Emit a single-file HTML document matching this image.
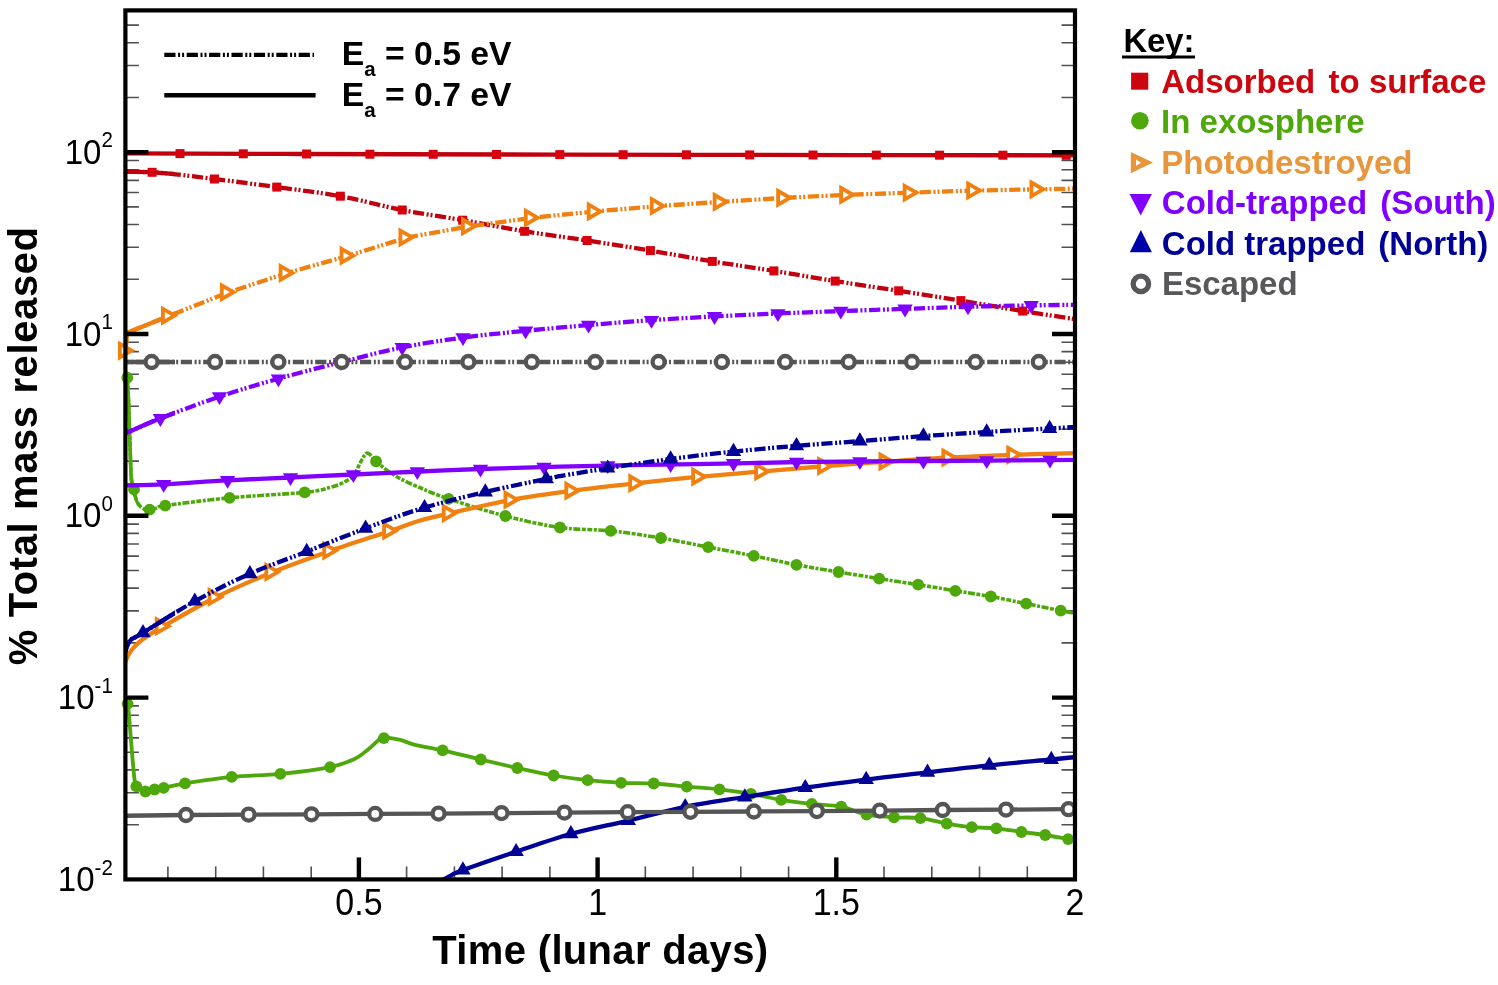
<!DOCTYPE html>
<html lang="en"><head><meta charset="utf-8"><title>Total mass released vs time</title>
<style>
html,body{margin:0;padding:0;background:#fff;}
body{width:1498px;height:985px;overflow:hidden;position:relative;font-family:"Liberation Sans", Arial, Helvetica, sans-serif;}
</style></head><body>
<svg width="1498" height="985" viewBox="0 0 1498 985" style="display:block;position:absolute;left:0;top:0">
<rect x="0" y="0" width="1498" height="985" fill="#fff"/>
<defs><clipPath id="pc"><rect x="125" y="10" width="951" height="870"/></clipPath><clipPath id="ps"><rect x="125" y="10" width="50" height="870"/></clipPath><clipPath id="pg"><rect x="125" y="10" width="13" height="870"/></clipPath></defs>
<g stroke="#505050" stroke-width="1.6" fill="none">
<path d="M125.4,824.7h13.5M1075.0,824.7h-13.5"/>
<path d="M125.4,792.7h13.5M1075.0,792.7h-13.5"/>
<path d="M125.4,769.9h13.5M1075.0,769.9h-13.5"/>
<path d="M125.4,752.3h13.5M1075.0,752.3h-13.5"/>
<path d="M125.4,737.9h13.5M1075.0,737.9h-13.5"/>
<path d="M125.4,725.8h13.5M1075.0,725.8h-13.5"/>
<path d="M125.4,715.2h13.5M1075.0,715.2h-13.5"/>
<path d="M125.4,705.9h13.5M1075.0,705.9h-13.5"/>
<path d="M125.4,642.9h13.5M1075.0,642.9h-13.5"/>
<path d="M125.4,610.9h13.5M1075.0,610.9h-13.5"/>
<path d="M125.4,588.1h13.5M1075.0,588.1h-13.5"/>
<path d="M125.4,570.5h13.5M1075.0,570.5h-13.5"/>
<path d="M125.4,556.1h13.5M1075.0,556.1h-13.5"/>
<path d="M125.4,544.0h13.5M1075.0,544.0h-13.5"/>
<path d="M125.4,533.4h13.5M1075.0,533.4h-13.5"/>
<path d="M125.4,524.1h13.5M1075.0,524.1h-13.5"/>
<path d="M125.4,461.1h13.5M1075.0,461.1h-13.5"/>
<path d="M125.4,429.1h13.5M1075.0,429.1h-13.5"/>
<path d="M125.4,406.3h13.5M1075.0,406.3h-13.5"/>
<path d="M125.4,388.7h13.5M1075.0,388.7h-13.5"/>
<path d="M125.4,374.3h13.5M1075.0,374.3h-13.5"/>
<path d="M125.4,362.2h13.5M1075.0,362.2h-13.5"/>
<path d="M125.4,351.6h13.5M1075.0,351.6h-13.5"/>
<path d="M125.4,342.3h13.5M1075.0,342.3h-13.5"/>
<path d="M125.4,279.3h13.5M1075.0,279.3h-13.5"/>
<path d="M125.4,247.3h13.5M1075.0,247.3h-13.5"/>
<path d="M125.4,224.5h13.5M1075.0,224.5h-13.5"/>
<path d="M125.4,206.9h13.5M1075.0,206.9h-13.5"/>
<path d="M125.4,192.5h13.5M1075.0,192.5h-13.5"/>
<path d="M125.4,180.4h13.5M1075.0,180.4h-13.5"/>
<path d="M125.4,169.8h13.5M1075.0,169.8h-13.5"/>
<path d="M125.4,160.5h13.5M1075.0,160.5h-13.5"/>
<path d="M125.4,97.5h13.5M1075.0,97.5h-13.5"/>
<path d="M125.4,65.5h13.5M1075.0,65.5h-13.5"/>
<path d="M125.4,42.7h13.5M1075.0,42.7h-13.5"/>
<path d="M125.4,25.1h13.5M1075.0,25.1h-13.5"/>
<path d="M1027.3,879.4v-13M1027.3,10.4v0"/>
<path d="M979.5,879.4v-13M979.5,10.4v0"/>
<path d="M931.8,879.4v-13M931.8,10.4v0"/>
<path d="M884.0,879.4v-13M884.0,10.4v0"/>
<path d="M788.6,879.4v-13M788.6,10.4v0"/>
<path d="M740.8,879.4v-13M740.8,10.4v0"/>
<path d="M693.1,879.4v-13M693.1,10.4v0"/>
<path d="M645.3,879.4v-13M645.3,10.4v0"/>
<path d="M549.9,879.4v-13M549.9,10.4v0"/>
<path d="M502.1,879.4v-13M502.1,10.4v0"/>
<path d="M454.4,879.4v-13M454.4,10.4v0"/>
<path d="M406.6,879.4v-13M406.6,10.4v0"/>
<path d="M311.2,879.4v-13M311.2,10.4v0"/>
<path d="M263.4,879.4v-13M263.4,10.4v0"/>
<path d="M215.7,879.4v-13M215.7,10.4v0"/>
<path d="M167.9,879.4v-13M167.9,10.4v0"/>
</g>
<g fill="none" stroke-linejoin="round">
<path clip-path="url(#pc)" d="M120.0,153.4 C150.0,153.5 226.7,153.8 300.0,154.0 C373.3,154.2 466.7,154.4 560.0,154.6 C653.3,154.8 774.0,155.0 860.0,155.1 C946.0,155.2 1040.0,155.3 1076.0,155.3" stroke="#c0000c" stroke-width="4.3"/>
<rect x="175.5" y="149.1" width="9.0" height="9.0" fill="#d8000e" stroke="none"/>
<rect x="238.8" y="149.3" width="9.0" height="9.0" fill="#d8000e" stroke="none"/>
<rect x="302.1" y="149.5" width="9.0" height="9.0" fill="#d8000e" stroke="none"/>
<rect x="365.4" y="149.7" width="9.0" height="9.0" fill="#d8000e" stroke="none"/>
<rect x="428.7" y="149.8" width="9.0" height="9.0" fill="#d8000e" stroke="none"/>
<rect x="492.0" y="150.0" width="9.0" height="9.0" fill="#d8000e" stroke="none"/>
<rect x="555.3" y="150.1" width="9.0" height="9.0" fill="#d8000e" stroke="none"/>
<rect x="618.6" y="150.2" width="9.0" height="9.0" fill="#d8000e" stroke="none"/>
<rect x="681.9" y="150.3" width="9.0" height="9.0" fill="#d8000e" stroke="none"/>
<rect x="745.2" y="150.4" width="9.0" height="9.0" fill="#d8000e" stroke="none"/>
<rect x="808.5" y="150.5" width="9.0" height="9.0" fill="#d8000e" stroke="none"/>
<rect x="871.8" y="150.6" width="9.0" height="9.0" fill="#d8000e" stroke="none"/>
<rect x="935.1" y="150.7" width="9.0" height="9.0" fill="#d8000e" stroke="none"/>
<rect x="998.4" y="150.7" width="9.0" height="9.0" fill="#d8000e" stroke="none"/>
<rect x="1061.7" y="150.8" width="9.0" height="9.0" fill="#d8000e" stroke="none"/>
<path clip-path="url(#pc)" d="M125.0,171.6 C129.5,171.7 143.6,171.9 152.1,172.3 C160.6,172.8 165.6,173.2 176.0,174.3 C186.4,175.4 197.7,176.9 214.5,179.0 C231.3,181.1 255.8,184.2 276.8,187.1 C297.8,190.0 319.4,192.4 340.3,196.2 C361.2,200.0 381.8,206.0 402.2,210.0 C422.6,214.0 442.3,216.6 462.7,220.2 C483.1,223.8 503.9,227.9 524.6,231.3 C545.3,234.7 566.1,237.3 587.1,240.5 C608.1,243.7 629.5,247.1 650.4,250.6 C671.3,254.1 691.7,258.0 712.3,261.4 C732.9,264.8 753.4,267.6 773.9,270.9 C794.4,274.2 814.4,277.8 835.2,281.1 C856.0,284.4 877.8,287.6 898.7,290.8 C919.7,294.1 940.2,297.2 960.9,300.6 C981.6,304.0 1003.5,308.0 1022.7,311.1 C1041.9,314.2 1067.1,317.9 1076.0,319.2" stroke="#c0000c" stroke-width="4.3" stroke-dasharray="11.2 2.6 2 2 2 2.6"/>
<path clip-path="url(#ps)" d="M125.0,171.6 C129.5,171.7 143.6,171.9 152.1,172.3 C160.6,172.8 165.6,173.2 176.0,174.3 C186.4,175.4 197.7,176.9 214.5,179.0 C231.3,181.1 255.8,184.2 276.8,187.1 C297.8,190.0 319.4,192.4 340.3,196.2 C361.2,200.0 381.8,206.0 402.2,210.0 C422.6,214.0 442.3,216.6 462.7,220.2 C483.1,223.8 503.9,227.9 524.6,231.3 C545.3,234.7 566.1,237.3 587.1,240.5 C608.1,243.7 629.5,247.1 650.4,250.6 C671.3,254.1 691.7,258.0 712.3,261.4 C732.9,264.8 753.4,267.6 773.9,270.9 C794.4,274.2 814.4,277.8 835.2,281.1 C856.0,284.4 877.8,287.6 898.7,290.8 C919.7,294.1 940.2,297.2 960.9,300.6 C981.6,304.0 1003.5,308.0 1022.7,311.1 C1041.9,314.2 1067.1,317.9 1076.0,319.2" stroke="#c0000c" stroke-width="4.3"/>
<rect x="147.6" y="167.8" width="9.0" height="9.0" fill="#d8000e" stroke="none"/>
<rect x="210.0" y="174.5" width="9.0" height="9.0" fill="#d8000e" stroke="none"/>
<rect x="272.3" y="182.6" width="9.0" height="9.0" fill="#d8000e" stroke="none"/>
<rect x="335.8" y="191.7" width="9.0" height="9.0" fill="#d8000e" stroke="none"/>
<rect x="397.7" y="205.5" width="9.0" height="9.0" fill="#d8000e" stroke="none"/>
<rect x="458.2" y="215.7" width="9.0" height="9.0" fill="#d8000e" stroke="none"/>
<rect x="520.1" y="226.8" width="9.0" height="9.0" fill="#d8000e" stroke="none"/>
<rect x="582.6" y="236.0" width="9.0" height="9.0" fill="#d8000e" stroke="none"/>
<rect x="645.9" y="246.1" width="9.0" height="9.0" fill="#d8000e" stroke="none"/>
<rect x="707.8" y="256.9" width="9.0" height="9.0" fill="#d8000e" stroke="none"/>
<rect x="769.4" y="266.4" width="9.0" height="9.0" fill="#d8000e" stroke="none"/>
<rect x="830.7" y="276.6" width="9.0" height="9.0" fill="#d8000e" stroke="none"/>
<rect x="894.2" y="286.3" width="9.0" height="9.0" fill="#d8000e" stroke="none"/>
<rect x="956.4" y="296.1" width="9.0" height="9.0" fill="#d8000e" stroke="none"/>
<rect x="1018.2" y="306.6" width="9.0" height="9.0" fill="#d8000e" stroke="none"/>
<path clip-path="url(#pc)" d="M127.6,703.8 C127.8,705.7 128.6,710.5 129.0,715.0 C129.4,719.5 129.7,724.8 130.2,730.6 C130.7,736.4 131.3,743.9 131.8,750.0 C132.3,756.1 132.8,762.1 133.3,767.1 C133.8,772.1 134.1,776.8 134.6,780.0 C135.1,783.2 135.4,784.8 136.3,786.4 C137.2,788.0 138.5,788.9 140.0,789.8 C141.5,790.6 143.0,791.5 145.4,791.5 C147.8,791.5 151.6,790.1 154.6,789.5 C157.6,788.9 158.6,788.8 163.7,787.8 C168.8,786.8 173.7,785.2 185.0,783.4 C196.3,781.6 215.8,778.5 231.7,776.9 C247.6,775.3 264.0,775.4 280.4,773.8 C296.8,772.2 317.8,769.6 330.1,767.1 C342.5,764.6 348.1,762.0 354.5,759.0 C360.9,756.0 364.6,752.1 368.7,748.9 C372.8,745.7 376.4,741.6 378.9,739.7 C381.4,737.8 380.5,737.7 383.9,737.7 C387.3,737.7 393.9,738.5 399.1,739.7 C404.3,740.9 407.8,743.0 415.0,744.8 C422.2,746.6 431.6,747.8 442.6,750.3 C453.6,752.8 468.4,756.5 480.8,759.5 C493.2,762.5 505.2,765.3 517.3,768.0 C529.4,770.7 541.9,773.5 553.6,775.5 C565.3,777.5 576.4,779.0 587.7,780.2 C599.0,781.4 610.2,782.2 621.2,782.8 C632.2,783.3 642.8,782.9 653.7,783.5 C664.6,784.1 675.8,785.6 686.8,786.6 C697.8,787.6 708.7,788.1 719.4,789.3 C730.1,790.5 740.6,792.0 750.9,793.8 C761.2,795.6 771.1,798.2 781.3,799.9 C791.4,801.6 801.8,802.8 811.8,803.9 C821.8,805.0 832.1,804.8 841.2,806.6 C850.3,808.4 857.8,812.9 866.6,814.7 C875.4,816.5 885.0,816.7 894.0,817.3 C903.0,817.9 911.6,817.0 920.4,818.1 C929.2,819.2 938.2,822.1 946.8,823.6 C955.4,825.1 963.5,826.4 971.8,827.2 C980.1,828.0 988.1,827.5 996.4,828.3 C1004.7,829.1 1013.3,830.9 1021.4,832.0 C1029.5,833.1 1037.4,833.8 1045.2,835.0 C1053.0,836.2 1063.0,838.2 1068.1,839.1 C1073.2,840.0 1074.7,840.0 1076.0,840.2" stroke="#4ea80c" stroke-width="3.8"/>
<circle cx="127.6" cy="703.8" r="5.9" fill="#4ea80c" stroke="none"/>
<circle cx="136.3" cy="786.4" r="5.9" fill="#4ea80c" stroke="none"/>
<circle cx="145.4" cy="791.5" r="5.9" fill="#4ea80c" stroke="none"/>
<circle cx="154.6" cy="789.5" r="5.9" fill="#4ea80c" stroke="none"/>
<circle cx="163.7" cy="787.8" r="5.9" fill="#4ea80c" stroke="none"/>
<circle cx="185.0" cy="783.4" r="5.9" fill="#4ea80c" stroke="none"/>
<circle cx="231.7" cy="776.9" r="5.9" fill="#4ea80c" stroke="none"/>
<circle cx="280.4" cy="773.8" r="5.9" fill="#4ea80c" stroke="none"/>
<circle cx="330.1" cy="767.1" r="5.9" fill="#4ea80c" stroke="none"/>
<circle cx="383.9" cy="738.1" r="5.9" fill="#4ea80c" stroke="none"/>
<circle cx="442.6" cy="750.3" r="5.9" fill="#4ea80c" stroke="none"/>
<circle cx="480.8" cy="759.5" r="5.9" fill="#4ea80c" stroke="none"/>
<circle cx="517.3" cy="768.0" r="5.9" fill="#4ea80c" stroke="none"/>
<circle cx="553.6" cy="775.5" r="5.9" fill="#4ea80c" stroke="none"/>
<circle cx="587.7" cy="780.2" r="5.9" fill="#4ea80c" stroke="none"/>
<circle cx="621.2" cy="782.8" r="5.9" fill="#4ea80c" stroke="none"/>
<circle cx="653.7" cy="783.5" r="5.9" fill="#4ea80c" stroke="none"/>
<circle cx="686.8" cy="786.6" r="5.9" fill="#4ea80c" stroke="none"/>
<circle cx="719.4" cy="789.3" r="5.9" fill="#4ea80c" stroke="none"/>
<circle cx="750.9" cy="793.8" r="5.9" fill="#4ea80c" stroke="none"/>
<circle cx="781.3" cy="799.9" r="5.9" fill="#4ea80c" stroke="none"/>
<circle cx="811.8" cy="803.9" r="5.9" fill="#4ea80c" stroke="none"/>
<circle cx="841.2" cy="806.6" r="5.9" fill="#4ea80c" stroke="none"/>
<circle cx="866.6" cy="814.7" r="5.9" fill="#4ea80c" stroke="none"/>
<circle cx="894.0" cy="817.3" r="5.9" fill="#4ea80c" stroke="none"/>
<circle cx="920.4" cy="818.1" r="5.9" fill="#4ea80c" stroke="none"/>
<circle cx="946.8" cy="823.6" r="5.9" fill="#4ea80c" stroke="none"/>
<circle cx="971.8" cy="827.2" r="5.9" fill="#4ea80c" stroke="none"/>
<circle cx="996.4" cy="828.3" r="5.9" fill="#4ea80c" stroke="none"/>
<circle cx="1021.4" cy="832.0" r="5.9" fill="#4ea80c" stroke="none"/>
<circle cx="1045.2" cy="835.0" r="5.9" fill="#4ea80c" stroke="none"/>
<circle cx="1068.1" cy="839.1" r="5.9" fill="#4ea80c" stroke="none"/>
<path clip-path="url(#pc)" d="M127.3,377.7 C127.5,381.4 128.1,391.3 128.5,400.0 C128.9,408.7 129.2,420.0 129.5,430.0 C129.8,440.0 130.2,451.7 130.5,460.0 C130.8,468.3 130.9,474.7 131.5,480.0 C132.1,485.3 133.1,488.4 134.0,492.0 C134.9,495.6 135.9,499.1 137.0,501.5 C138.1,503.9 139.2,505.3 140.5,506.6 C141.8,507.9 143.5,508.9 145.0,509.5 C146.5,510.1 147.6,510.1 149.6,509.9 C151.6,509.6 154.4,508.7 157.0,508.0 C159.6,507.3 153.1,507.3 165.2,505.6 C177.3,503.9 206.3,500.0 229.6,497.8 C252.8,495.6 288.0,494.1 304.7,492.4 C321.4,490.7 323.6,489.1 330.0,487.5 C336.4,485.9 339.4,484.6 343.3,482.6 C347.2,480.6 350.5,478.9 353.4,475.5 C356.3,472.1 358.7,465.6 360.5,462.3 C362.3,459.1 363.0,457.5 364.0,456.0 C365.0,454.5 365.6,453.4 366.6,453.2 C367.6,452.9 368.4,453.1 370.0,454.5 C371.6,455.9 372.8,458.3 376.1,461.3 C379.4,464.3 385.3,469.3 390.0,472.5 C394.7,475.7 399.1,478.1 404.1,480.6 C409.1,483.1 412.6,484.6 420.0,487.7 C427.4,490.8 434.4,494.2 448.6,498.9 C462.8,503.6 486.8,511.2 505.4,516.0 C524.0,520.8 542.5,525.0 560.0,527.5 C577.5,530.0 593.9,529.1 610.7,530.9 C627.5,532.6 644.6,535.3 660.9,538.0 C677.1,540.7 692.7,544.1 708.2,547.1 C723.7,550.1 739.1,553.0 753.8,555.9 C768.5,558.8 782.4,562.1 796.5,564.8 C810.6,567.5 824.7,569.7 838.5,572.0 C852.3,574.3 865.9,576.5 879.2,578.6 C892.5,580.7 905.4,582.7 918.1,584.7 C930.8,586.7 943.2,588.8 955.3,590.8 C967.4,592.8 979.0,594.4 990.8,596.5 C1002.6,598.6 1014.6,601.4 1026.2,603.7 C1037.9,606.1 1052.4,609.0 1060.7,610.6 C1069.0,612.2 1073.5,613.0 1076.0,613.5" stroke="#4ea80c" stroke-width="3.6" stroke-dasharray="7 1.5 4 1.5 5 1.5 3 1.5"/>
<path clip-path="url(#pg)" d="M127.3,377.7 C127.5,381.4 128.1,391.3 128.5,400.0 C128.9,408.7 129.2,420.0 129.5,430.0 C129.8,440.0 130.2,451.7 130.5,460.0 C130.8,468.3 130.9,474.7 131.5,480.0 C132.1,485.3 133.1,488.4 134.0,492.0 C134.9,495.6 135.9,499.1 137.0,501.5 C138.1,503.9 139.2,505.3 140.5,506.6 C141.8,507.9 143.5,508.9 145.0,509.5 C146.5,510.1 147.6,510.1 149.6,509.9 C151.6,509.6 154.4,508.7 157.0,508.0 C159.6,507.3 153.1,507.3 165.2,505.6 C177.3,503.9 206.3,500.0 229.6,497.8 C252.8,495.6 288.0,494.1 304.7,492.4 C321.4,490.7 323.6,489.1 330.0,487.5 C336.4,485.9 339.4,484.6 343.3,482.6 C347.2,480.6 350.5,478.9 353.4,475.5 C356.3,472.1 358.7,465.6 360.5,462.3 C362.3,459.1 363.0,457.5 364.0,456.0 C365.0,454.5 365.6,453.4 366.6,453.2 C367.6,452.9 368.4,453.1 370.0,454.5 C371.6,455.9 372.8,458.3 376.1,461.3 C379.4,464.3 385.3,469.3 390.0,472.5 C394.7,475.7 399.1,478.1 404.1,480.6 C409.1,483.1 412.6,484.6 420.0,487.7 C427.4,490.8 434.4,494.2 448.6,498.9 C462.8,503.6 486.8,511.2 505.4,516.0 C524.0,520.8 542.5,525.0 560.0,527.5 C577.5,530.0 593.9,529.1 610.7,530.9 C627.5,532.6 644.6,535.3 660.9,538.0 C677.1,540.7 692.7,544.1 708.2,547.1 C723.7,550.1 739.1,553.0 753.8,555.9 C768.5,558.8 782.4,562.1 796.5,564.8 C810.6,567.5 824.7,569.7 838.5,572.0 C852.3,574.3 865.9,576.5 879.2,578.6 C892.5,580.7 905.4,582.7 918.1,584.7 C930.8,586.7 943.2,588.8 955.3,590.8 C967.4,592.8 979.0,594.4 990.8,596.5 C1002.6,598.6 1014.6,601.4 1026.2,603.7 C1037.9,606.1 1052.4,609.0 1060.7,610.6 C1069.0,612.2 1073.5,613.0 1076.0,613.5" stroke="#4ea80c" stroke-width="3.6"/>
<circle cx="127.3" cy="377.7" r="5.9" fill="#4ea80c" stroke="none"/>
<circle cx="134.0" cy="489.4" r="5.9" fill="#4ea80c" stroke="none"/>
<circle cx="149.6" cy="509.7" r="5.9" fill="#4ea80c" stroke="none"/>
<circle cx="165.2" cy="505.6" r="5.9" fill="#4ea80c" stroke="none"/>
<circle cx="229.6" cy="497.8" r="5.9" fill="#4ea80c" stroke="none"/>
<circle cx="304.7" cy="492.4" r="5.9" fill="#4ea80c" stroke="none"/>
<circle cx="376.1" cy="461.3" r="5.9" fill="#4ea80c" stroke="none"/>
<circle cx="448.6" cy="498.9" r="5.9" fill="#4ea80c" stroke="none"/>
<circle cx="505.4" cy="516.0" r="5.9" fill="#4ea80c" stroke="none"/>
<circle cx="560.0" cy="527.5" r="5.9" fill="#4ea80c" stroke="none"/>
<circle cx="610.7" cy="530.9" r="5.9" fill="#4ea80c" stroke="none"/>
<circle cx="660.9" cy="538.0" r="5.9" fill="#4ea80c" stroke="none"/>
<circle cx="708.2" cy="547.1" r="5.9" fill="#4ea80c" stroke="none"/>
<circle cx="753.8" cy="555.9" r="5.9" fill="#4ea80c" stroke="none"/>
<circle cx="796.5" cy="564.8" r="5.9" fill="#4ea80c" stroke="none"/>
<circle cx="838.5" cy="572.0" r="5.9" fill="#4ea80c" stroke="none"/>
<circle cx="879.2" cy="578.6" r="5.9" fill="#4ea80c" stroke="none"/>
<circle cx="918.1" cy="584.7" r="5.9" fill="#4ea80c" stroke="none"/>
<circle cx="955.3" cy="590.8" r="5.9" fill="#4ea80c" stroke="none"/>
<circle cx="990.8" cy="596.5" r="5.9" fill="#4ea80c" stroke="none"/>
<circle cx="1026.2" cy="603.7" r="5.9" fill="#4ea80c" stroke="none"/>
<circle cx="1060.7" cy="610.6" r="5.9" fill="#4ea80c" stroke="none"/>
<path clip-path="url(#pc)" d="M125.4,662.0 C125.8,661.0 126.7,658.1 127.9,655.9 C129.1,653.7 130.4,651.3 132.8,648.6 C135.2,645.9 137.4,643.3 142.5,639.6 C147.6,635.9 151.3,633.3 163.6,626.2 C175.9,619.1 198.1,606.0 216.4,597.0 C234.7,588.0 254.1,579.6 273.2,571.9 C292.3,564.2 311.5,557.5 331.1,550.6 C350.7,543.7 376.2,535.7 391.0,530.7 C405.8,525.7 410.1,523.4 420.0,520.5 C429.9,517.6 435.2,516.6 450.6,513.1 C466.0,509.6 491.9,503.4 512.3,499.7 C532.7,496.0 552.4,493.4 573.2,490.7 C594.0,487.9 616.0,485.5 637.1,483.2 C658.2,480.9 679.0,478.7 700.0,476.7 C721.0,474.7 742.0,473.2 763.0,471.4 C784.0,469.6 805.2,467.6 825.9,466.0 C846.6,464.4 866.6,462.9 887.3,461.5 C908.0,460.1 928.9,458.6 950.2,457.5 C971.5,456.4 994.1,455.5 1015.1,454.8 C1036.1,454.1 1065.8,453.5 1076.0,453.2" stroke="#f08010" stroke-width="4.3"/>
<path d="M156.7,619.4L168.5,626.2L156.7,633.0Z" fill="#fff" stroke="#f08010" stroke-width="3.8" stroke-linejoin="miter"/>
<path d="M209.5,590.2L221.3,597.0L209.5,603.8Z" fill="#fff" stroke="#f08010" stroke-width="3.8" stroke-linejoin="miter"/>
<path d="M266.3,565.1L278.1,571.9L266.3,578.7Z" fill="#fff" stroke="#f08010" stroke-width="3.8" stroke-linejoin="miter"/>
<path d="M324.2,543.8L336.0,550.6L324.2,557.4Z" fill="#fff" stroke="#f08010" stroke-width="3.8" stroke-linejoin="miter"/>
<path d="M384.1,523.9L395.9,530.7L384.1,537.5Z" fill="#fff" stroke="#f08010" stroke-width="3.8" stroke-linejoin="miter"/>
<path d="M443.7,506.3L455.5,513.1L443.7,519.9Z" fill="#fff" stroke="#f08010" stroke-width="3.8" stroke-linejoin="miter"/>
<path d="M505.4,492.9L517.2,499.7L505.4,506.5Z" fill="#fff" stroke="#f08010" stroke-width="3.8" stroke-linejoin="miter"/>
<path d="M566.3,483.9L578.1,490.7L566.3,497.5Z" fill="#fff" stroke="#f08010" stroke-width="3.8" stroke-linejoin="miter"/>
<path d="M630.2,476.4L642.0,483.2L630.2,490.0Z" fill="#fff" stroke="#f08010" stroke-width="3.8" stroke-linejoin="miter"/>
<path d="M693.1,469.9L704.9,476.7L693.1,483.5Z" fill="#fff" stroke="#f08010" stroke-width="3.8" stroke-linejoin="miter"/>
<path d="M756.1,464.6L767.9,471.4L756.1,478.2Z" fill="#fff" stroke="#f08010" stroke-width="3.8" stroke-linejoin="miter"/>
<path d="M819.0,459.2L830.8,466.0L819.0,472.8Z" fill="#fff" stroke="#f08010" stroke-width="3.8" stroke-linejoin="miter"/>
<path d="M880.4,454.7L892.2,461.5L880.4,468.3Z" fill="#fff" stroke="#f08010" stroke-width="3.8" stroke-linejoin="miter"/>
<path d="M943.3,450.7L955.1,457.5L943.3,464.3Z" fill="#fff" stroke="#f08010" stroke-width="3.8" stroke-linejoin="miter"/>
<path d="M1008.2,448.0L1020.0,454.8L1008.2,461.6Z" fill="#fff" stroke="#f08010" stroke-width="3.8" stroke-linejoin="miter"/>
<path clip-path="url(#pc)" d="M125.4,350.5 L127.2,332.8 L169.8,315.6 L228.7,292.2 L287.5,272.9 L348.4,255.7 L407.3,237.4 L469.8,226.3 L532.7,217.7 L595.6,211.4 L658.6,206.0 L721.5,201.8 L785.0,197.8 L848.0,194.8 L911.5,192.6 L975.0,190.5 L1038.3,189.3 L1076.0,188.6" stroke="#f08010" stroke-width="4.3" stroke-dasharray="11.2 2.6 2 2 2 2.6"/>
<path clip-path="url(#ps)" d="M125.4,350.5 L127.2,332.8 L169.8,315.6 L228.7,292.2 L287.5,272.9 L348.4,255.7 L407.3,237.4 L469.8,226.3 L532.7,217.7 L595.6,211.4 L658.6,206.0 L721.5,201.8 L785.0,197.8 L848.0,194.8 L911.5,192.6 L975.0,190.5 L1038.3,189.3 L1076.0,188.6" stroke="#f08010" stroke-width="4.3"/>
<path d="M119.9,343.8L131.7,350.6L119.9,357.4Z" fill="#fff" stroke="#f08010" stroke-width="3.8" stroke-linejoin="miter"/>
<path d="M162.9,308.8L174.7,315.6L162.9,322.4Z" fill="#fff" stroke="#f08010" stroke-width="3.8" stroke-linejoin="miter"/>
<path d="M221.8,285.4L233.6,292.2L221.8,299.0Z" fill="#fff" stroke="#f08010" stroke-width="3.8" stroke-linejoin="miter"/>
<path d="M280.6,266.1L292.4,272.9L280.6,279.7Z" fill="#fff" stroke="#f08010" stroke-width="3.8" stroke-linejoin="miter"/>
<path d="M341.5,248.9L353.3,255.7L341.5,262.5Z" fill="#fff" stroke="#f08010" stroke-width="3.8" stroke-linejoin="miter"/>
<path d="M400.4,230.6L412.2,237.4L400.4,244.2Z" fill="#fff" stroke="#f08010" stroke-width="3.8" stroke-linejoin="miter"/>
<path d="M462.9,219.5L474.7,226.3L462.9,233.1Z" fill="#fff" stroke="#f08010" stroke-width="3.8" stroke-linejoin="miter"/>
<path d="M525.8,210.9L537.6,217.7L525.8,224.5Z" fill="#fff" stroke="#f08010" stroke-width="3.8" stroke-linejoin="miter"/>
<path d="M588.7,204.6L600.5,211.4L588.7,218.2Z" fill="#fff" stroke="#f08010" stroke-width="3.8" stroke-linejoin="miter"/>
<path d="M651.7,199.2L663.5,206.0L651.7,212.8Z" fill="#fff" stroke="#f08010" stroke-width="3.8" stroke-linejoin="miter"/>
<path d="M714.6,195.0L726.4,201.8L714.6,208.6Z" fill="#fff" stroke="#f08010" stroke-width="3.8" stroke-linejoin="miter"/>
<path d="M778.1,191.0L789.9,197.8L778.1,204.6Z" fill="#fff" stroke="#f08010" stroke-width="3.8" stroke-linejoin="miter"/>
<path d="M841.1,188.0L852.9,194.8L841.1,201.6Z" fill="#fff" stroke="#f08010" stroke-width="3.8" stroke-linejoin="miter"/>
<path d="M904.6,185.8L916.4,192.6L904.6,199.4Z" fill="#fff" stroke="#f08010" stroke-width="3.8" stroke-linejoin="miter"/>
<path d="M968.1,183.7L979.9,190.5L968.1,197.3Z" fill="#fff" stroke="#f08010" stroke-width="3.8" stroke-linejoin="miter"/>
<path d="M1031.4,182.5L1043.2,189.3L1031.4,196.1Z" fill="#fff" stroke="#f08010" stroke-width="3.8" stroke-linejoin="miter"/>
<path clip-path="url(#pc)" d="M125.0,485.4 C131.5,485.2 146.7,485.1 163.8,484.3 C180.9,483.5 206.5,481.4 227.6,480.3 C248.7,479.2 269.5,478.5 290.5,477.5 C311.5,476.5 331.8,475.5 353.4,474.5 C375.0,473.5 398.9,472.4 420.0,471.5 C441.1,470.6 456.7,469.8 480.0,469.0 C503.3,468.2 535.0,467.2 560.0,466.6 C585.0,466.0 605.0,465.6 630.0,465.2 C655.0,464.8 681.7,464.4 710.0,463.9 C738.3,463.4 775.0,462.4 800.0,462.0 C825.0,461.6 839.4,461.7 860.0,461.5 C880.6,461.3 902.3,461.1 923.4,461.0 C944.5,460.9 965.6,460.8 986.7,460.6 C1007.8,460.5 1035.1,460.2 1050.0,460.1 C1064.9,460.0 1071.7,459.9 1076.0,459.9" stroke="#8000ff" stroke-width="4.3"/>
<path d="M156.0,480.0H171.4L163.7,492.8Z" fill="#8000ff" stroke="none"/>
<path d="M219.9,476.0H235.3L227.6,488.8Z" fill="#8000ff" stroke="none"/>
<path d="M282.8,473.2H298.2L290.5,486.0Z" fill="#8000ff" stroke="none"/>
<path d="M345.7,470.2H361.1L353.4,483.0Z" fill="#8000ff" stroke="none"/>
<path d="M409.6,467.3H425.0L417.3,480.1Z" fill="#8000ff" stroke="none"/>
<path d="M472.8,464.7H488.2L480.5,477.5Z" fill="#8000ff" stroke="none"/>
<path d="M536.3,462.7H551.7L544.0,475.5Z" fill="#8000ff" stroke="none"/>
<path d="M600.0,461.3H615.4L607.7,474.1Z" fill="#8000ff" stroke="none"/>
<path d="M662.9,460.3H678.3L670.6,473.1Z" fill="#8000ff" stroke="none"/>
<path d="M725.8,459.1H741.2L733.5,471.9Z" fill="#8000ff" stroke="none"/>
<path d="M788.8,457.8H804.2L796.5,470.6Z" fill="#8000ff" stroke="none"/>
<path d="M852.2,457.2H867.6L859.9,470.0Z" fill="#8000ff" stroke="none"/>
<path d="M915.7,456.7H931.1L923.4,469.5Z" fill="#8000ff" stroke="none"/>
<path d="M979.0,456.3H994.4L986.7,469.1Z" fill="#8000ff" stroke="none"/>
<path d="M1042.3,455.8H1057.7L1050.0,468.6Z" fill="#8000ff" stroke="none"/>
<path clip-path="url(#pc)" d="M125.0,433.0 C125.4,432.9 121.3,434.9 127.3,432.5 C133.2,430.1 145.3,424.3 160.7,418.3 C176.1,412.3 199.9,403.2 219.5,396.6 C239.1,390.0 258.0,384.5 278.4,378.7 C298.8,372.9 321.1,367.2 341.7,362.0 C362.3,356.8 382.0,351.5 402.2,347.4 C422.4,343.3 442.4,340.4 463.0,337.6 C483.6,334.8 504.7,332.9 525.6,330.8 C546.5,328.7 567.5,326.9 588.5,325.1 C609.5,323.3 630.4,321.6 651.5,320.2 C672.6,318.8 693.9,317.5 715.0,316.4 C736.1,315.3 756.9,314.4 777.9,313.5 C798.9,312.6 819.6,311.9 840.8,311.1 C861.9,310.3 883.6,309.6 904.8,308.9 C925.9,308.2 946.6,307.4 967.7,306.8 C988.8,306.2 1013.2,305.7 1031.2,305.4 C1049.2,305.1 1068.5,304.9 1076.0,304.8" stroke="#8000ff" stroke-width="4.3" stroke-dasharray="11.2 2.6 2 2 2 2.6"/>
<path clip-path="url(#ps)" d="M125.0,433.0 C125.4,432.9 121.3,434.9 127.3,432.5 C133.2,430.1 145.3,424.3 160.7,418.3 C176.1,412.3 199.9,403.2 219.5,396.6 C239.1,390.0 258.0,384.5 278.4,378.7 C298.8,372.9 321.1,367.2 341.7,362.0 C362.3,356.8 382.0,351.5 402.2,347.4 C422.4,343.3 442.4,340.4 463.0,337.6 C483.6,334.8 504.7,332.9 525.6,330.8 C546.5,328.7 567.5,326.9 588.5,325.1 C609.5,323.3 630.4,321.6 651.5,320.2 C672.6,318.8 693.9,317.5 715.0,316.4 C736.1,315.3 756.9,314.4 777.9,313.5 C798.9,312.6 819.6,311.9 840.8,311.1 C861.9,310.3 883.6,309.6 904.8,308.9 C925.9,308.2 946.6,307.4 967.7,306.8 C988.8,306.2 1013.2,305.7 1031.2,305.4 C1049.2,305.1 1068.5,304.9 1076.0,304.8" stroke="#8000ff" stroke-width="4.3"/>
<path d="M152.7,414.1H168.1L160.4,426.9Z" fill="#8000ff" stroke="none"/>
<path d="M211.8,392.3H227.2L219.5,405.1Z" fill="#8000ff" stroke="none"/>
<path d="M270.7,374.4H286.1L278.4,387.2Z" fill="#8000ff" stroke="none"/>
<path d="M332.8,358.0H348.2L340.5,370.8Z" fill="#8000ff" stroke="none"/>
<path d="M394.5,343.1H409.9L402.2,355.9Z" fill="#8000ff" stroke="none"/>
<path d="M455.3,333.3H470.7L463.0,346.1Z" fill="#8000ff" stroke="none"/>
<path d="M517.9,326.5H533.3L525.6,339.3Z" fill="#8000ff" stroke="none"/>
<path d="M580.8,320.8H596.2L588.5,333.6Z" fill="#8000ff" stroke="none"/>
<path d="M643.8,315.9H659.2L651.5,328.7Z" fill="#8000ff" stroke="none"/>
<path d="M706.8,312.1H722.2L714.5,324.9Z" fill="#8000ff" stroke="none"/>
<path d="M770.2,309.2H785.6L777.9,322.0Z" fill="#8000ff" stroke="none"/>
<path d="M833.1,306.8H848.5L840.8,319.6Z" fill="#8000ff" stroke="none"/>
<path d="M897.3,304.6H912.7L905.0,317.4Z" fill="#8000ff" stroke="none"/>
<path d="M960.3,302.5H975.7L968.0,315.3Z" fill="#8000ff" stroke="none"/>
<path d="M1023.5,301.1H1038.9L1031.2,313.9Z" fill="#8000ff" stroke="none"/>
<path clip-path="url(#pc)" d="M431.0,886.0 C433.7,884.6 441.7,880.2 447.0,877.6 C452.3,875.0 451.4,874.4 462.9,870.1 C474.3,865.8 497.8,857.8 515.7,851.8 C533.6,845.8 551.9,839.2 570.5,834.0 C589.1,828.8 608.2,825.3 627.3,820.8 C646.4,816.3 665.6,810.8 685.2,806.8 C704.8,802.8 724.8,800.2 744.8,797.0 C764.8,793.8 785.1,790.6 805.3,787.7 C825.5,784.8 845.8,782.2 866.2,779.6 C886.6,777.0 907.0,774.8 927.5,772.4 C948.0,770.0 968.7,767.5 989.3,765.4 C1009.9,763.2 1036.8,760.9 1051.3,759.5 C1065.8,758.1 1071.9,757.4 1076.0,757.0" stroke="#000096" stroke-width="4.3"/>
<path d="M455.2,874.5H470.6L462.9,861.3Z" fill="#000096" stroke="none"/>
<path d="M508.4,856.1H523.8L516.1,842.9Z" fill="#000096" stroke="none"/>
<path d="M563.2,838.3H578.6L570.9,825.1Z" fill="#000096" stroke="none"/>
<path d="M620.6,825.0H636.0L628.3,811.8Z" fill="#000096" stroke="none"/>
<path d="M677.5,811.2H692.9L685.2,798.0Z" fill="#000096" stroke="none"/>
<path d="M737.1,801.4H752.5L744.8,788.2Z" fill="#000096" stroke="none"/>
<path d="M797.6,792.1H813.0L805.3,778.9Z" fill="#000096" stroke="none"/>
<path d="M858.5,784.0H873.9L866.2,770.8Z" fill="#000096" stroke="none"/>
<path d="M919.8,776.8H935.2L927.5,763.6Z" fill="#000096" stroke="none"/>
<path d="M981.6,769.8H997.0L989.3,756.6Z" fill="#000096" stroke="none"/>
<path d="M1043.6,763.9H1059.0L1051.3,750.7Z" fill="#000096" stroke="none"/>
<path clip-path="url(#pc)" d="M125.4,652.0 C125.7,651.0 126.1,648.2 127.1,646.1 C128.0,644.0 128.5,641.8 131.1,639.6 C133.7,637.4 131.9,639.5 142.5,633.1 C153.1,626.7 176.6,611.3 194.5,601.4 C212.4,591.5 231.1,582.1 249.8,573.8 C268.5,565.5 287.4,559.2 306.7,551.6 C326.0,544.0 346.7,535.4 365.6,528.3 C384.5,521.2 400.1,515.0 420.0,509.0 C439.9,502.9 464.1,497.0 485.1,492.0 C506.1,487.0 533.5,481.6 546.0,479.0 C558.5,476.4 549.7,477.9 560.0,476.1 C570.3,474.3 589.3,471.1 607.7,468.2 C626.1,465.3 649.6,461.8 670.6,459.0 C691.6,456.2 712.5,453.8 733.5,451.6 C754.5,449.4 775.4,447.6 796.5,445.8 C817.6,444.1 838.9,442.7 860.0,441.1 C881.1,439.5 902.3,437.6 923.4,436.1 C944.5,434.6 965.7,433.3 986.7,432.0 C1007.7,430.7 1034.7,429.3 1049.6,428.5 C1064.5,427.7 1071.6,427.2 1076.0,427.0" stroke="#000096" stroke-width="4.3" stroke-dasharray="11.2 2.6 2 2 2 2.6"/>
<path clip-path="url(#ps)" d="M125.4,652.0 C125.7,651.0 126.1,648.2 127.1,646.1 C128.0,644.0 128.5,641.8 131.1,639.6 C133.7,637.4 131.9,639.5 142.5,633.1 C153.1,626.7 176.6,611.3 194.5,601.4 C212.4,591.5 231.1,582.1 249.8,573.8 C268.5,565.5 287.4,559.2 306.7,551.6 C326.0,544.0 346.7,535.4 365.6,528.3 C384.5,521.2 400.1,515.0 420.0,509.0 C439.9,502.9 464.1,497.0 485.1,492.0 C506.1,487.0 533.5,481.6 546.0,479.0 C558.5,476.4 549.7,477.9 560.0,476.1 C570.3,474.3 589.3,471.1 607.7,468.2 C626.1,465.3 649.6,461.8 670.6,459.0 C691.6,456.2 712.5,453.8 733.5,451.6 C754.5,449.4 775.4,447.6 796.5,445.8 C817.6,444.1 838.9,442.7 860.0,441.1 C881.1,439.5 902.3,437.6 923.4,436.1 C944.5,434.6 965.7,433.3 986.7,432.0 C1007.7,430.7 1034.7,429.3 1049.6,428.5 C1064.5,427.7 1071.6,427.2 1076.0,427.0" stroke="#000096" stroke-width="4.3"/>
<path d="M135.3,637.2H150.7L143.0,624.0Z" fill="#000096" stroke="none"/>
<path d="M187.1,605.6H202.5L194.8,592.4Z" fill="#000096" stroke="none"/>
<path d="M242.2,578.2H257.6L249.9,565.0Z" fill="#000096" stroke="none"/>
<path d="M299.0,556.0H314.4L306.7,542.8Z" fill="#000096" stroke="none"/>
<path d="M357.9,532.7H373.3L365.6,519.5Z" fill="#000096" stroke="none"/>
<path d="M416.8,512.1H432.2L424.5,498.9Z" fill="#000096" stroke="none"/>
<path d="M477.6,496.4H493.0L485.3,483.2Z" fill="#000096" stroke="none"/>
<path d="M538.6,483.3H554.0L546.3,470.1Z" fill="#000096" stroke="none"/>
<path d="M600.0,472.6H615.4L607.7,459.4Z" fill="#000096" stroke="none"/>
<path d="M662.9,463.4H678.3L670.6,450.2Z" fill="#000096" stroke="none"/>
<path d="M725.8,456.0H741.2L733.5,442.8Z" fill="#000096" stroke="none"/>
<path d="M788.8,450.2H804.2L796.5,437.0Z" fill="#000096" stroke="none"/>
<path d="M852.2,445.5H867.6L859.9,432.3Z" fill="#000096" stroke="none"/>
<path d="M915.7,440.5H931.1L923.4,427.3Z" fill="#000096" stroke="none"/>
<path d="M979.0,436.4H994.4L986.7,423.2Z" fill="#000096" stroke="none"/>
<path d="M1041.9,432.9H1057.3L1049.6,419.7Z" fill="#000096" stroke="none"/>
<path clip-path="url(#pc)" d="M120.0,815.8 L186.0,815.0 L248.6,814.6 L311.5,814.3 L375.2,813.9 L438.6,813.6 L501.5,813.1 L564.4,812.6 L627.7,812.2 L690.4,811.8 L753.9,811.5 L816.9,811.1 L879.8,810.6 L942.7,810.0 L1006.0,809.6 L1068.5,809.2 L1076.0,809.1" stroke="#555555" stroke-width="4.3"/>
<circle cx="186.0" cy="815.0" r="6.0" fill="#fff" stroke="#555555" stroke-width="4.3"/>
<circle cx="248.6" cy="814.6" r="6.0" fill="#fff" stroke="#555555" stroke-width="4.3"/>
<circle cx="311.5" cy="814.3" r="6.0" fill="#fff" stroke="#555555" stroke-width="4.3"/>
<circle cx="375.2" cy="813.9" r="6.0" fill="#fff" stroke="#555555" stroke-width="4.3"/>
<circle cx="438.6" cy="813.6" r="6.0" fill="#fff" stroke="#555555" stroke-width="4.3"/>
<circle cx="501.5" cy="813.1" r="6.0" fill="#fff" stroke="#555555" stroke-width="4.3"/>
<circle cx="564.4" cy="812.6" r="6.0" fill="#fff" stroke="#555555" stroke-width="4.3"/>
<circle cx="627.7" cy="812.2" r="6.0" fill="#fff" stroke="#555555" stroke-width="4.3"/>
<circle cx="690.4" cy="811.8" r="6.0" fill="#fff" stroke="#555555" stroke-width="4.3"/>
<circle cx="753.9" cy="811.5" r="6.0" fill="#fff" stroke="#555555" stroke-width="4.3"/>
<circle cx="816.9" cy="811.1" r="6.0" fill="#fff" stroke="#555555" stroke-width="4.3"/>
<circle cx="879.8" cy="810.6" r="6.0" fill="#fff" stroke="#555555" stroke-width="4.3"/>
<circle cx="942.7" cy="810.0" r="6.0" fill="#fff" stroke="#555555" stroke-width="4.3"/>
<circle cx="1006.0" cy="809.6" r="6.0" fill="#fff" stroke="#555555" stroke-width="4.3"/>
<circle cx="1068.5" cy="809.2" r="6.0" fill="#fff" stroke="#555555" stroke-width="4.3"/>
<path clip-path="url(#pc)" d="M125.4,362.0 L1076.0,362.0" stroke="#555555" stroke-width="4.3" stroke-dasharray="11.2 2.6 2 2 2 2.6" stroke-dashoffset="11.8"/>
<path clip-path="url(#ps)" d="M125.4,362.0 L1076.0,362.0" stroke="#555555" stroke-width="4.3"/>
<circle cx="151.6" cy="362.0" r="6.0" fill="#fff" stroke="#555555" stroke-width="4.3"/>
<circle cx="215.0" cy="362.0" r="6.0" fill="#fff" stroke="#555555" stroke-width="4.3"/>
<circle cx="278.3" cy="362.0" r="6.0" fill="#fff" stroke="#555555" stroke-width="4.3"/>
<circle cx="341.7" cy="362.0" r="6.0" fill="#fff" stroke="#555555" stroke-width="4.3"/>
<circle cx="405.1" cy="362.0" r="6.0" fill="#fff" stroke="#555555" stroke-width="4.3"/>
<circle cx="468.4" cy="362.0" r="6.0" fill="#fff" stroke="#555555" stroke-width="4.3"/>
<circle cx="531.8" cy="362.0" r="6.0" fill="#fff" stroke="#555555" stroke-width="4.3"/>
<circle cx="595.2" cy="362.0" r="6.0" fill="#fff" stroke="#555555" stroke-width="4.3"/>
<circle cx="658.6" cy="362.0" r="6.0" fill="#fff" stroke="#555555" stroke-width="4.3"/>
<circle cx="721.9" cy="362.0" r="6.0" fill="#fff" stroke="#555555" stroke-width="4.3"/>
<circle cx="785.3" cy="362.0" r="6.0" fill="#fff" stroke="#555555" stroke-width="4.3"/>
<circle cx="848.7" cy="362.0" r="6.0" fill="#fff" stroke="#555555" stroke-width="4.3"/>
<circle cx="912.0" cy="362.0" r="6.0" fill="#fff" stroke="#555555" stroke-width="4.3"/>
<circle cx="975.4" cy="362.0" r="6.0" fill="#fff" stroke="#555555" stroke-width="4.3"/>
<circle cx="1038.8" cy="362.0" r="6.0" fill="#fff" stroke="#555555" stroke-width="4.3"/>
</g>
<rect x="125.4" y="10.4" width="949.6" height="869.0" fill="none" stroke="#000" stroke-width="4.2"/>
<g stroke="#000" stroke-width="4.4" fill="none">
<path d="M125.4,697.6h23M1075.0,697.6h-23"/>
<path d="M125.4,515.8h23M1075.0,515.8h-23"/>
<path d="M125.4,334.0h23M1075.0,334.0h-23"/>
<path d="M125.4,152.2h23M1075.0,152.2h-23"/>
<path d="M358.9,879.4v-22"/>
<path d="M597.6,879.4v-22"/>
<path d="M836.3,879.4v-22"/>
</g>
<g font-family='"Liberation Sans", Arial, Helvetica, sans-serif' fill="#000">
<text transform="translate(112.8,891.0) scale(1,1.05)" font-size="33" text-anchor="end">10<tspan font-size="20.5" dy="-15.6">-2</tspan></text>
<text transform="translate(112.8,709.2) scale(1,1.05)" font-size="33" text-anchor="end">10<tspan font-size="20.5" dy="-15.6">-1</tspan></text>
<text transform="translate(112.8,527.4) scale(1,1.05)" font-size="33" text-anchor="end">10<tspan font-size="20.5" dy="-15.6">0</tspan></text>
<text transform="translate(112.8,345.6) scale(1,1.05)" font-size="33" text-anchor="end">10<tspan font-size="20.5" dy="-15.6">1</tspan></text>
<text transform="translate(112.8,163.8) scale(1,1.05)" font-size="33" text-anchor="end">10<tspan font-size="20.5" dy="-15.6">2</tspan></text>
<text transform="translate(358.9,914.7) scale(1,1.075)" font-size="34" text-anchor="middle">0.5</text>
<text transform="translate(597.6,914.7) scale(1,1.075)" font-size="34" text-anchor="middle">1</text>
<text transform="translate(836.3,914.7) scale(1,1.075)" font-size="34" text-anchor="middle">1.5</text>
<text transform="translate(1075.0,914.7) scale(1,1.075)" font-size="34" text-anchor="middle">2</text>
<text x="600.2" y="963.6" font-size="40" font-weight="bold" text-anchor="middle" textLength="335.8" lengthAdjust="spacing">Time (lunar days)</text>
<text transform="translate(36.5,446.1) rotate(-90)" font-size="40" font-weight="bold" text-anchor="middle" textLength="438.3" lengthAdjust="spacing">% Total mass released</text>
<path d="M164.3,54.9H314" stroke="#000" stroke-width="4.4" stroke-dasharray="11.2 2.6 2 2 2 2.6" fill="none"/>
<path d="M164.3,95.2H315.6" stroke="#000" stroke-width="4.4" fill="none"/>
<text x="341.8" y="65.1" font-size="33.7" font-weight="bold">E<tspan font-size="20.5" dy="11">a</tspan><tspan dy="-11"> = 0.5 eV</tspan></text>
<text x="341.8" y="105.8" font-size="33.7" font-weight="bold">E<tspan font-size="20.5" dy="11">a</tspan><tspan dy="-11"> = 0.7 eV</tspan></text>
<text x="1123.4" y="52" font-size="32.8" font-weight="bold">Key:</text>
<rect x="1122" y="55.5" width="73" height="3" fill="#000"/>
<text x="1161.2" y="92.8" font-size="33" font-weight="bold" fill="#cc060e">Adsorbed <tspan dx="4.2">to surface</tspan></text>
<rect x="1131.1" y="72.7" width="17.2" height="17" fill="#cc060e"/>
<text x="1161.1" y="132.8" font-size="33" font-weight="bold" fill="#4ea80c">In exosphere</text>
<circle cx="1139.9" cy="120.8" r="8.8" fill="#4ea80c"/>
<text x="1161.3" y="173.9" font-size="33" font-weight="bold" fill="#e8963c">Photodestroyed</text>
<path d="M1130.8,151.9L1153,162.6L1130.8,173.3Z" fill="#e8963c"/><path d="M1136,159.6L1141,162.65L1136,165.7Z" fill="#fff"/>
<text x="1161.8" y="214.3" font-size="33" font-weight="bold" fill="#8000ff">Cold-trapped <tspan dx="3.9">(South)</tspan></text>
<path d="M1129.5,194H1151.9L1140.7,215.6Z" fill="#8000ff"/>
<text x="1161.8" y="255.1" font-size="33" font-weight="bold" fill="#000096">Cold trapped <tspan dx="3.9">(North)</tspan></text>
<path d="M1129.8,252.2H1151.9L1140.9,230.1Z" fill="#0000a8"/>
<text x="1161.9" y="295.2" font-size="33" font-weight="bold" fill="#58585a">Escaped</text>
<circle cx="1140.9" cy="283.9" r="7.7" fill="#fff" stroke="#58585a" stroke-width="5.3"/>
</g>
</svg>
</body></html>
